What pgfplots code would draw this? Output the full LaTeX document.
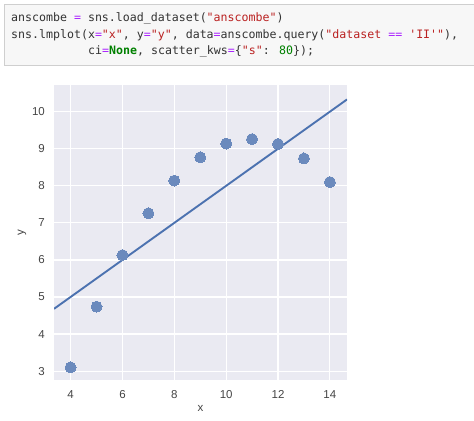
\documentclass[border=0pt]{standalone}
\usepackage{pgfplots}
\pgfplotsset{compat=1.18}
\usepackage{fontspec}
\setmainfont{Liberation Sans}
\newfontfamily\codefont{DejaVu Sans Mono}

\definecolor{sbblue}{HTML}{4C72B0}
\definecolor{sbdot}{HTML}{6B8ABD}
\definecolor{sbbg}{HTML}{EAEAF2}
\definecolor{codebg}{HTML}{F7F7F7}
\definecolor{codeframe}{HTML}{CFCFCF}
\definecolor{cstr}{HTML}{BA2121}
\definecolor{ckw}{HTML}{008000}
\definecolor{cop}{HTML}{AA22FF}
\definecolor{ctext}{HTML}{333333}
\definecolor{ticktext}{HTML}{444444}

\newcommand{\s}[1]{\textcolor{cstr}{#1}}
\newcommand{\op}[1]{\textcolor{cop}{#1}}

\begin{document}
\begin{tikzpicture}
\useasboundingbox (0bp,0bp) rectangle (474bp,421bp);

% code cell
\fill[codebg] (4bp,356bp) rectangle (474bp,417bp);
\draw[codeframe, line width=0.8bp] (474bp,417bp) -- (4bp,417bp) -- (4bp,356bp) -- (474bp,356bp);
\begin{scope}[every node/.style={anchor=base west, inner sep=0pt, text=ctext,
    font=\codefont\fontsize{11.6bp}{14bp}\selectfont}]
\node at (11bp,399.5bp) {anscombe \op{=} sns.load\_dataset(\s{"anscombe"})};
\node at (11bp,382.8bp) {sns.lmplot(x\op{=}\s{"x"}, y\op{=}\s{"y"}, data\op{=}anscombe.query(\s{"dataset \op{==} 'II'"}),};
\node at (88bp,366.1bp) {ci\op{=}\textcolor{ckw}{\bfseries None}, scatter\_kws\op{=}\{\s{"s"}: \textcolor{ckw}{80}\});};
\end{scope}

\begin{axis}[
    at={(54bp,41bp)}, anchor=south west,
    scale only axis,
    width=293bp, height=295bp,
    xmin=3.36, xmax=14.66,
    ymin=2.76, ymax=10.72,
    xtick={4,6,8,10,12,14},
    ytick={3,4,5,6,7,8,9,10},
    axis background/.style={fill=sbbg},
    axis line style={draw=none},
    major tick length=0pt,
    grid=major,
    major grid style={white, line width=1.2bp},
    /pgf/number format/assume math mode=true,
    tick label style={font=\fontsize{11.5bp}{13bp}\selectfont, text=ticktext},
    yticklabel style={inner sep=0pt, xshift=-9bp},
    xticklabel style={inner sep=0pt, yshift=-10bp},
    label style={font=\fontsize{11.5bp}{13bp}\selectfont, text=ticktext},
    xlabel={x},
    xlabel style={at={(axis description cs:0.5,-0.098)}, anchor=center, inner sep=0pt},
    ylabel={y},
    ylabel style={at={(axis description cs:-0.109,0.5)}, anchor=center, inner sep=0pt},
    clip=true,
]
\addplot[sbblue, line width=1.9bp] coordinates {(3.36,4.68) (14.66,10.33)};
\addplot[only marks, color=sbdot, mark=*, mark size=5.5bp,
    mark options={fill=sbdot, draw=sbdot, line width=0pt}] coordinates {
    (10,9.14) (8,8.14) (13,8.74) (9,8.77) (11,9.26) (14,8.10)
    (6,6.13) (4,3.10) (12,9.13) (7,7.26) (5,4.74)};
\end{axis}
\end{tikzpicture}
\end{document}
